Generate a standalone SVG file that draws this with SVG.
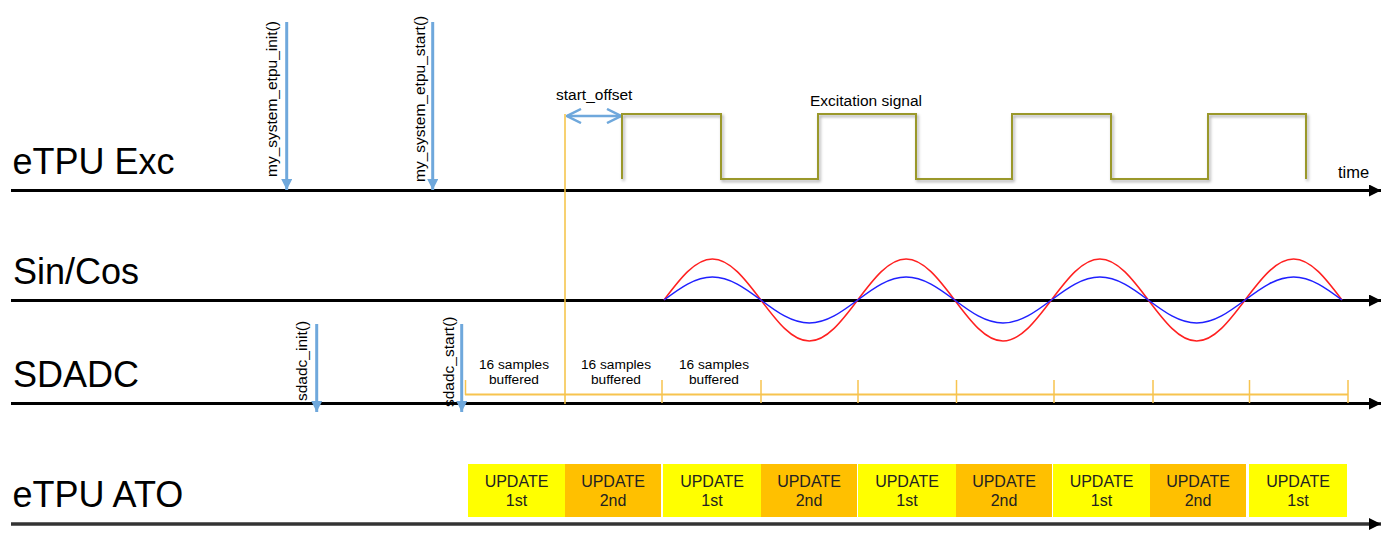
<svg xmlns="http://www.w3.org/2000/svg" width="1392" height="537" viewBox="0 0 1392 537">
<defs>
<style>
.lane{font-family:"Liberation Sans",Arial,sans-serif;font-size:36px;fill:#000}
.lbl{font-family:"Liberation Sans",Arial,sans-serif;font-size:15.5px;fill:#000}
.buf{font-family:"Liberation Sans",Arial,sans-serif;font-size:13.7px;fill:#000;text-anchor:middle}
.upd{font-family:"Liberation Sans",Arial,sans-serif;font-size:16px;fill:#222;text-anchor:middle}
.axis{stroke:#000;stroke-width:3;fill:none}
.call{stroke:#6fa8dc;stroke-width:3;fill:none}
.gold{stroke:#f7c44f;fill:none}
.y1{fill:#ffff00}
.y2{fill:#ffc000}
</style>
<marker id="ah" viewBox="0 0 12 12" refX="12" refY="6" markerWidth="12" markerHeight="12" markerUnits="userSpaceOnUse" orient="auto">
<path d="M0,0 L12,6 L0,12 z" fill="#000"/>
</marker>
<marker id="bh" viewBox="0 0 11 11" refX="11" refY="5.5" markerWidth="11" markerHeight="11" markerUnits="userSpaceOnUse" orient="auto">
<path d="M0,0 L11,5.5 L0,11 z" fill="#6fa8dc"/>
</marker>
<marker id="ch" viewBox="0 0 16 16" refX="15" refY="8" markerWidth="16" markerHeight="16" markerUnits="userSpaceOnUse" orient="auto-start-reverse">
<path d="M1,1 L15,8 L1,15" fill="none" stroke="#6fa8dc" stroke-width="2.5"/>
</marker>
<filter id="sh" x="-5%" y="-20%" width="110%" height="140%">
<feDropShadow dx="1.5" dy="2" stdDeviation="1.5" flood-color="#000" flood-opacity="0.35"/>
</filter>
</defs>

<g id="lanes">
<text class="lane" x="12.5" y="173.5">eTPU Exc</text>
<text class="lane" x="13" y="284">Sin/Cos</text>
<text class="lane" x="13" y="386.5">SDADC</text>
<text class="lane" x="12.5" y="506.5">eTPU ATO</text>
<text class="lbl" x="1338" y="178" style="font-size:16.5px">time</text>
</g>

<g id="connectors">
<line class="axis" x1="11" y1="190.5" x2="1381" y2="190.5" marker-end="url(#ah)"/>
<line class="axis" x1="11" y1="300.5" x2="1381" y2="300.5" marker-end="url(#ah)"/>
<line class="axis" x1="11" y1="403.5" x2="1381" y2="403.5" marker-end="url(#ah)"/>
<line x1="11" y1="524" x2="1381" y2="524" style="stroke:#333;stroke-width:3.5" marker-end="url(#ah)"/>
<line class="call" x1="286.7" y1="22" x2="286.7" y2="190" marker-end="url(#bh)"/>
<line class="call" x1="432.7" y1="22" x2="432.7" y2="190" marker-end="url(#bh)"/>
<line class="call" x1="316.7" y1="324" x2="316.7" y2="412" marker-end="url(#bh)"/>
<line class="call" x1="461.7" y1="324" x2="461.7" y2="412" marker-end="url(#bh)"/>
<line x1="567" y1="116" x2="621" y2="116" stroke="#6fa8dc" stroke-width="2.5" marker-start="url(#ch)" marker-end="url(#ch)"/>
<line x1="565" y1="114" x2="565" y2="404" stroke="#f5c242" stroke-width="1.5"/>
</g>

<g id="calls">
<text class="lbl" transform="translate(277,177) rotate(-90)">my_system_etpu_init()</text>
<text class="lbl" transform="translate(425,182) rotate(-90)">my_system_etpu_start()</text>
<text class="lbl" transform="translate(307,401) rotate(-90)">sdadc_init()</text>
<text class="lbl" transform="translate(454,407) rotate(-90)">sdadc_start()</text>
<text class="lbl" x="556" y="100">start_offset</text>
</g>

<g id="excitation">
<text class="lbl" x="810" y="106">Excitation signal</text>
<path d="M622,179 V114 H721 V179 H818 V114 H916 V179 H1012 V114 H1111 V179 H1208 V114 H1306 V179" fill="none" stroke="#9a982c" stroke-width="2" filter="url(#sh)"/>
</g>

<g id="sincos">
<path fill="none" stroke="#ff2020" stroke-width="1.5" d="M664,300 C679.8,279 695,259 712.4,259 S745.1,279 760.9,300 S791.9,341 809.3,341 S841.9,321 857.7,300 S888.7,259 906.1,259 S938.8,279 954.6,300 S985.6,341 1003,341 S1035.6,321 1051.4,300 S1082.5,259 1099.9,259 S1132.5,279 1148.3,300 S1179.3,341 1196.7,341 S1229.3,321 1245.1,300 S1276.2,259 1293.6,259 S1326.2,279 1342,300"/>
<path fill="none" stroke="#2020ff" stroke-width="1.5" d="M664,300 C679.8,288.2 695,277 712.4,277 S745.1,288.2 760.9,300 S791.9,323 809.3,323 S841.9,311.8 857.7,300 S888.7,277 906.1,277 S938.8,288.2 954.6,300 S985.6,323 1003,323 S1035.6,311.8 1051.4,300 S1082.5,277 1099.9,277 S1132.5,288.2 1148.3,300 S1179.3,323 1196.7,323 S1229.3,311.8 1245.1,300 S1276.2,277 1293.6,277 S1326.2,288.2 1342,300"/>
</g>

<g id="sdadc-buffer">
<path class="gold" stroke-width="2" d="M465,394.5 H1348"/>
<path class="gold" stroke-width="1.5" d="M465.5,380 V395 M662,380 V403 M761,380 V403 M858,380 V403 M956.5,380 V403 M1054,380 V403 M1153,380 V403 M1249.5,380 V403 M1348,380 V403"/>
<text class="buf" x="514" y="368.5">16 samples</text>
<text class="buf" x="514" y="383.5">buffered</text>
<text class="buf" x="616" y="368.5">16 samples</text>
<text class="buf" x="616" y="383.5">buffered</text>
<text class="buf" x="714" y="368.5">16 samples</text>
<text class="buf" x="714" y="383.5">buffered</text>
</g>

<g id="ato-1"><rect class="y1" x="468" y="464" width="97" height="53"/><text class="upd" x="516.5" y="487">UPDATE</text><text class="upd" x="516.5" y="506">1st</text></g>
<g id="ato-2"><rect class="y2" x="565" y="464" width="96" height="53"/><text class="upd" x="613" y="487">UPDATE</text><text class="upd" x="613" y="506">2nd</text></g>
<g id="ato-3"><rect class="y1" x="663" y="464" width="98" height="53"/><text class="upd" x="712" y="487">UPDATE</text><text class="upd" x="712" y="506">1st</text></g>
<g id="ato-4"><rect class="y2" x="761" y="464" width="96" height="53"/><text class="upd" x="809" y="487">UPDATE</text><text class="upd" x="809" y="506">2nd</text></g>
<g id="ato-5"><rect class="y1" x="858" y="464" width="98" height="53"/><text class="upd" x="907" y="487">UPDATE</text><text class="upd" x="907" y="506">1st</text></g>
<g id="ato-6"><rect class="y2" x="956" y="464" width="96" height="53"/><text class="upd" x="1004" y="487">UPDATE</text><text class="upd" x="1004" y="506">2nd</text></g>
<g id="ato-7"><rect class="y1" x="1053" y="464" width="97" height="53"/><text class="upd" x="1101.5" y="487">UPDATE</text><text class="upd" x="1101.5" y="506">1st</text></g>
<g id="ato-8"><rect class="y2" x="1150" y="464" width="96" height="53"/><text class="upd" x="1198" y="487">UPDATE</text><text class="upd" x="1198" y="506">2nd</text></g>
<g id="ato-9"><rect class="y1" x="1249" y="464" width="98" height="53"/><text class="upd" x="1298" y="487">UPDATE</text><text class="upd" x="1298" y="506">1st</text></g>
</svg>
